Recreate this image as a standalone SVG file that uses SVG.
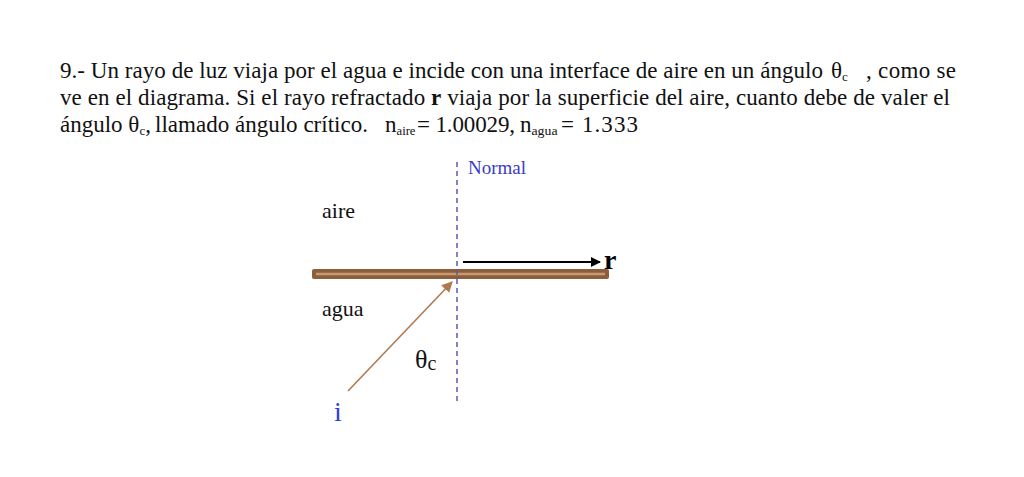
<svg xmlns="http://www.w3.org/2000/svg" width="1024" height="477" viewBox="0 0 1024 477">
<style>
.t{font-family:"Liberation Serif","Times New Roman",serif;font-size:23px;fill:#111}
.sub{font-size:13px}
.lbl{font-family:"Liberation Serif","Times New Roman",serif;fill:#111}
</style>
<defs>
<marker id="ah" viewBox="0 0 10 10" refX="9" refY="5" markerWidth="10" markerHeight="10" markerUnits="userSpaceOnUse" orient="auto">
<path d="M0,0 L10,5 L0,10 z" fill="#000"/>
</marker>
<marker id="ahb" viewBox="0 0 10 10" refX="9" refY="5" markerWidth="11" markerHeight="11" markerUnits="userSpaceOnUse" orient="auto">
<path d="M0,0 L10,5 L0,10 z" fill="#b07a50"/>
</marker>
</defs>
<rect width="1024" height="477" fill="#fff"/>
<g id="question">
<text class="t" x="60" y="78" textLength="763" lengthAdjust="spacing">9.- Un rayo de luz viaja por el agua e incide con una interface de aire en un ángulo</text>
<text class="t" x="831" y="78">θ<tspan class="sub" dy="3">c</tspan></text>
<text class="t" x="866" y="78" textLength="90" lengthAdjust="spacing">, como se</text>
<text class="t" x="60" y="105" textLength="890" lengthAdjust="spacing">ve en el diagrama. Si el rayo refractado <tspan font-weight="bold">r</tspan> viaja por la superficie del aire, cuanto debe de valer el</text>
<text class="t" x="60" y="132">ángulo θ<tspan class="sub" dy="3">c</tspan><tspan dy="-3">,</tspan></text>
<text class="t" x="155" y="132" textLength="213" lengthAdjust="spacing">llamado ángulo crítico.</text>
<text class="t" x="385" y="132">n</text>
<text class="t sub" x="396.5" y="135" textLength="19" lengthAdjust="spacingAndGlyphs">aire</text>
<text class="t" x="417" y="132" textLength="98" lengthAdjust="spacing">= 1.00029,</text>
<text class="t" x="520" y="132">n</text>
<text class="t sub" x="531.5" y="135" textLength="26" lengthAdjust="spacingAndGlyphs">agua</text>
<text class="t" x="561" y="132" textLength="77" lengthAdjust="spacing">= 1.333</text>
</g>
<g id="interface">
<rect x="312" y="269" width="297" height="10" rx="2" fill="#8b5e3c"/>
<line x1="316" y1="274" x2="605" y2="274" stroke="#c99a70" stroke-width="2.5"/>
</g>
<g id="normal">
<line x1="457" y1="162" x2="457" y2="404" stroke="#5a5ab0" stroke-width="1.5" stroke-dasharray="5,4"/>
<text x="468" y="174" font-family="Liberation Serif, Times New Roman, serif" font-size="19" fill="#3a3ac8">Normal</text>
</g>
<g id="labels">
<text class="lbl" x="322" y="218" font-size="22">aire</text>
<text class="lbl" x="322" y="316" font-size="22">agua</text>
<text class="lbl" x="415" y="368" font-size="26">θ<tspan font-size="20" dy="2">c</tspan></text>
<text x="604" y="269" font-family="Liberation Serif, Times New Roman, serif" font-size="28" font-weight="bold" fill="#000">r</text>
<text x="334" y="421" font-family="Liberation Serif, Times New Roman, serif" font-size="28" fill="#2a3ee0">i</text>
</g>
<g id="connectors">
<line x1="463" y1="262" x2="600" y2="262" stroke="#000" stroke-width="2" marker-end="url(#ah)"/>
<line x1="348" y1="391" x2="452" y2="282" stroke="#b07a50" stroke-width="1.6" marker-end="url(#ahb)"/>
</g>
</svg>
